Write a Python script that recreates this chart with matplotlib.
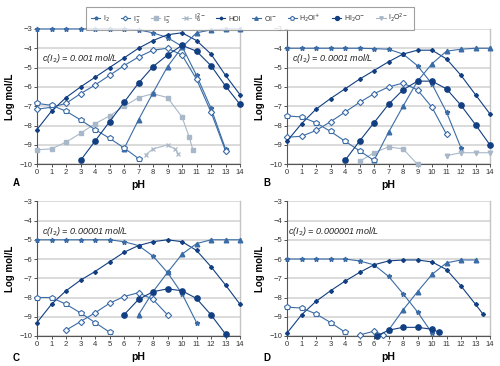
import matplotlib
matplotlib.use("Agg")
import matplotlib.pyplot as plt

plt.rcParams["font.family"] = ["Liberation Sans", "DejaVu Sans"]

# series labels (legend order)
labels = [r"I$_2$", r"I$_3^{-}$", r"I$_5^{-}$", r"I$_6^{2-}$", "HOI",
          r"OI$^{-}$", r"H$_2$OI$^{+}$", r"HI$_2$O$^{-}$", r"I$_2$O$^{2-}$"]
keys = ["I2", "I3", "I5", "I6", "HOI", "OI", "H2OI", "HI2O", "I2O"]

panel_letters = ["A", "B", "C", "D"]
panel_notes = [r"c(I$_2$) = 0.001 mol/L", r"c(I$_2$) = 0.0001 mol/L",
               r"c(I$_2$) = 0.00001 mol/L", r"c(I$_2$) = 0.000001 mol/L"]

# panel A, c(I2) = 0.001 mol/L
data_a = {
    "I2": ([0, 1, 2, 3, 4, 5, 6, 7, 8, 9, 10, 11, 12, 13],
           [-3, -3, -3, -3, -3, -3, -3, -3.05, -3.2, -3.45, -3.9, -5.4, -7.1, -9.2]),
    "I3": ([0, 1, 2, 3, 4, 5, 6, 7, 8, 9, 10, 11, 12, 13],
           [-7.15, -7.05, -6.85, -6.35, -5.9, -5.4, -4.9, -4.45, -4.1, -4.0, -4.35, -5.6, -7.3, -9.3]),
    "I5": ([0, 1, 2, 3, 4, 5, 6, 7, 8, 9, 10, 10.5, 10.75],
           [-9.25, -9.2, -8.85, -8.4, -7.9, -7.5, -7.0, -6.55, -6.35, -6.55, -7.55, -8.6, -9.25]),
    "I6": ([7.5, 8, 9, 9.5, 9.75],
           [-9.5, -9.2, -9.0, -9.2, -9.45]),
    "HOI": ([0, 1, 2, 3, 4, 5, 6, 7, 8, 9, 10, 11, 12, 13, 14],
            [-8.2, -7.25, -6.55, -6.0, -5.5, -5.0, -4.5, -4.0, -3.6, -3.3, -3.2, -3.6, -4.3, -5.4, -6.4]),
    "OI": ([6, 7, 8, 9, 10, 11, 12, 13, 14],
           [-9.2, -7.7, -6.3, -4.95, -3.95, -3.2, -3.05, -3.0, -3.0]),
    "H2OI": ([0, 1, 2, 3, 4, 5, 6, 7],
             [-6.85, -6.95, -7.25, -7.7, -8.2, -8.65, -9.15, -9.7]),
    "HI2O": ([3, 4, 5, 6, 7, 8, 9, 10, 11, 12, 13, 14],
             [-9.8, -8.8, -7.8, -6.8, -5.8, -4.95, -4.35, -3.85, -4.15, -4.9, -5.95, -6.9]),
    "I2O": ([], []),
}

# panel B, c(I2) = 0.0001 mol/L
data_b = {
    "I2": ([0, 1, 2, 3, 4, 5, 6, 7, 8, 9, 10, 11, 12],
           [-4, -4, -4, -4, -4, -4, -4.02, -4.05, -4.3, -4.9, -5.85, -7.3, -9.15]),
    "I3": ([0, 1, 2, 3, 4, 5, 6, 7, 8, 9, 10, 11],
           [-8.6, -8.55, -8.25, -7.8, -7.3, -6.8, -6.35, -6.0, -5.8, -6.15, -7.05, -8.45]),
    "I5": ([5, 6, 7, 8, 9],
           [-9.85, -9.4, -9.1, -9.2, -10.0]),
    "I6": ([], []),
    "HOI": ([0, 1, 2, 3, 4, 5, 6, 7, 8, 9, 10, 11, 12, 13, 14],
            [-8.8, -7.9, -7.15, -6.6, -6.1, -5.6, -5.15, -4.7, -4.3, -4.1, -4.1, -4.55, -5.4, -6.4, -7.4]),
    "OI": ([6, 7, 8, 9, 10, 11, 12, 13, 14],
           [-9.8, -8.35, -7.0, -5.7, -4.8, -4.15, -4.05, -4.0, -4.0]),
    "H2OI": ([0, 1, 2, 3, 4, 5, 6],
             [-7.5, -7.55, -7.85, -8.3, -8.8, -9.3, -9.8]),
    "HI2O": ([4, 5, 6, 7, 8, 9, 10, 11, 12, 13, 14],
             [-9.8, -8.8, -7.85, -6.9, -6.15, -5.7, -5.7, -6.1, -6.95, -7.95, -9.0]),
    "I2O": ([11, 12, 13, 14],
            [-9.55, -9.4, -9.4, -9.4]),
}

# panel C, c(I2) = 0.00001 mol/L
data_c = {
    "I2": ([0, 1, 2, 3, 4, 5, 6, 7, 8, 9, 10, 11],
           [-5, -5, -5, -5, -5, -5, -5.1, -5.3, -5.85, -6.7, -7.8, -9.3]),
    "I3": ([2, 3, 4, 5, 6, 7, 8, 9],
           [-9.7, -9.25, -8.8, -8.3, -7.95, -7.75, -8.1, -8.9]),
    "I5": ([], []),
    "I6": ([], []),
    "HOI": ([0, 1, 2, 3, 4, 5, 6, 7, 8, 9, 10, 11, 12, 13, 14],
            [-9.3, -8.35, -7.65, -7.1, -6.65, -6.15, -5.65, -5.3, -5.1, -5.0, -5.1, -5.55, -6.4, -7.35, -8.35]),
    "OI": ([7, 8, 9, 10, 11, 12, 13, 14],
           [-8.9, -7.7, -6.7, -5.75, -5.2, -5.0, -5.0, -5.0]),
    "H2OI": ([0, 1, 2, 3, 4, 5],
             [-8.0, -8.0, -8.35, -8.8, -9.3, -9.8]),
    "HI2O": ([6, 7, 8, 9, 10, 11, 12, 13],
             [-8.9, -8.1, -7.7, -7.55, -7.65, -8.05, -8.9, -9.9]),
    "I2O": ([], []),
}

# panel D, c(I2) = 0.000001 mol/L
data_d = {
    "I2": ([0, 1, 2, 3, 4, 5, 6, 7, 8, 9, 10],
           [-6, -6, -6, -6, -6, -6.1, -6.3, -6.9, -7.8, -8.75, -9.85]),
    "I3": ([5, 6, 6.65],
           [-9.95, -9.75, -9.95]),
    "I5": ([], []),
    "I6": ([], []),
    "HOI": ([0, 1, 2, 3, 4, 5, 6, 7, 8, 9, 10, 11, 12, 13, 13.5],
            [-9.85, -8.9, -8.2, -7.65, -7.15, -6.7, -6.3, -6.1, -6.05, -6.05, -6.15, -6.55, -7.4, -8.35, -8.85]),
    "OI": ([7, 8, 9, 10, 11, 12, 13],
           [-9.7, -8.65, -7.7, -6.8, -6.2, -6.05, -6.05]),
    "H2OI": ([0, 1, 2, 3, 4],
             [-8.5, -8.55, -8.85, -9.3, -9.8]),
    "HI2O": ([6.2, 7, 8, 9, 10, 10.45],
             [-10.0, -9.7, -9.55, -9.55, -9.65, -9.8]),
    "I2O": ([], []),
}

mid = "#3b6ca6"
navy = "#123f82"
grey = "#a9b8c8"
styles = {
    "I2": dict(color=mid, marker="*", ms=3.5, mfc=mid, mec=mid),
    "I3": dict(color=mid, marker="D", ms=3.2, mfc="white", mec=mid, mew=0.8),
    "I5": dict(color=grey, marker="s", ms=3.3, mfc=grey, mec=grey),
    "I6": dict(color=grey, marker="x", ms=3.5, mfc=grey, mec=grey, mew=0.9),
    "HOI": dict(color=navy, marker="D", ms=2.0, mfc=navy, mec=navy),
    "OI": dict(color=mid, marker="^", ms=3.3, mfc=mid, mec=mid),
    "H2OI": dict(color=mid, marker="p", ms=4.2, mfc="white", mec=mid, mew=0.8),
    "HI2O": dict(color=navy, marker="o", ms=3.8, mfc=navy, mec=navy),
    "I2O": dict(color=grey, marker="v", ms=3.3, mfc=grey, mec=grey),
}

fig = plt.figure(figsize=(5.0, 3.66), dpi=100)
boxes = [
    [0.074, 0.551, 0.406, 0.370],
    [0.574, 0.551, 0.406, 0.370],
    [0.074, 0.082, 0.406, 0.368],
    [0.574, 0.082, 0.406, 0.368],
]
panels = [data_a, data_b, data_c, data_d]
letter_y = [-0.14, -0.14, -0.16, -0.16]

handles = []
for i, (box, data) in enumerate(zip(boxes, panels)):
    ax = fig.add_axes(box)
    for y in range(-10, -2):
        ax.axhline(y, color="#d4d4d4", lw=1.2, zorder=0)
    for k, lab in zip(keys, labels):
        x, y = data[k]
        (ln,) = ax.plot(x, y, lw=0.8, label=lab, clip_on=False, zorder=3, **styles[k])
        if i == 0:
            handles.append(ln)
    ax.set_xlim(0, 14)
    ax.set_ylim(-10, -3)
    ax.set_xticks(range(0, 15))
    ax.set_yticks(range(-10, -2))
    ax.tick_params(labelsize=5.5, length=2, width=0.6, pad=1.5, colors="#333333")
    for s in ["left", "bottom"]:
        ax.spines[s].set_color("#555555")
        ax.spines[s].set_linewidth(0.8)
    ax.spines["top"].set_visible(False)
    ax.spines["right"].set_color("#c4c4c4")
    ax.spines["right"].set_linewidth(1.0)
    ax.set_xlabel("pH", fontsize=7.5, fontweight="bold", labelpad=3)
    ax.set_ylabel("Log mol/L", fontsize=7, fontweight="bold", labelpad=3)
    ax.text(0.35 if i < 3 else 0.1, -4.55, panel_notes[i], fontsize=6.5,
            style="italic", va="center", ha="left", color="#222222")
    ax.text(-0.118, letter_y[i], panel_letters[i], transform=ax.transAxes,
            fontsize=7, fontweight="bold", ha="left", va="center")

# legend handles for empty series in panel A
for k, lab in zip(keys, labels):
    if not data_a[k][0]:
        (ln,) = plt.plot([], [], lw=0.8, label=lab, **styles[k])
        handles[keys.index(k)] = ln

leg = fig.legend(handles=handles, loc="upper center", bbox_to_anchor=(0.5, 0.99),
                 ncol=9, fontsize=5, frameon=True, fancybox=False,
                 handlelength=1.3, handletextpad=0.4, columnspacing=1.6,
                 borderpad=0.7, markerscale=0.75)
leg.get_frame().set_edgecolor("#888888")
leg.get_frame().set_linewidth(0.8)
for t in leg.get_texts():
    t.set_color("#333333")

fig.savefig("out.png", dpi=100)
